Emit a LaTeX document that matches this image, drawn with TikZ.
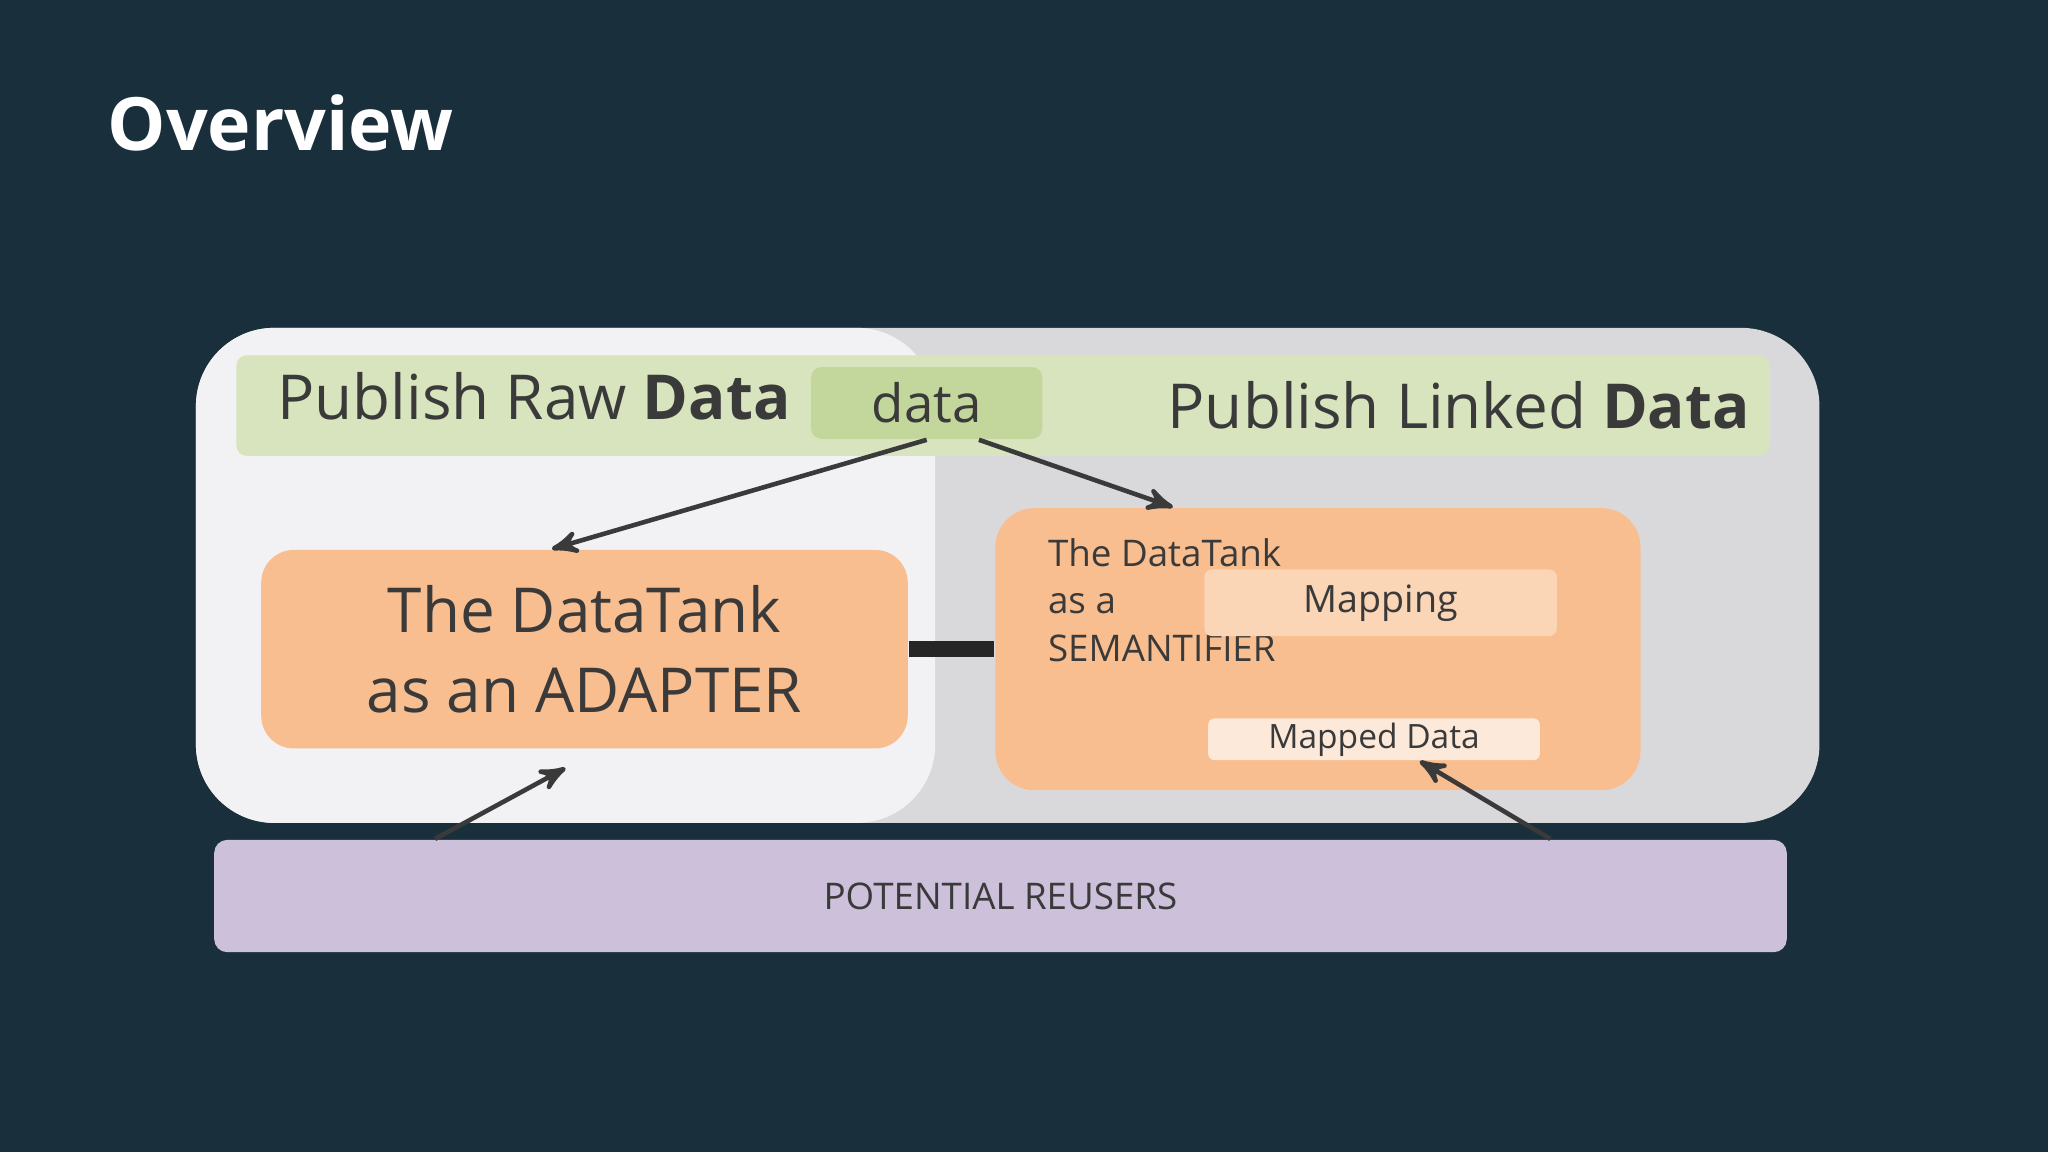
\documentclass[tikz,border=0pt]{standalone}
\usepackage{fontspec}
\setmainfont{Open Sans}
\usetikzlibrary{positioning,arrows}
\definecolor{slate}{HTML}{1A2F3C}
\definecolor{panelgrey}{HTML}{D9D9DB}
\definecolor{panelwhite}{HTML}{F2F2F4}
\definecolor{bandgreen}{HTML}{D7E4BD}
\definecolor{datagreen}{HTML}{C3D69B}
\definecolor{tankorange}{HTML}{F9BE8F}
\definecolor{mapfill}{HTML}{FAD5B6}
\definecolor{mappedfill}{HTML}{FDE9D9}
\definecolor{reuserpurple}{HTML}{CCC0DA}
\definecolor{ink}{HTML}{3A3A3A}
\tikzset{
  box/.style={draw=none,rounded corners=#1,inner sep=0pt},
  flow/.style={->,>=stealth',draw=ink,line width=1pt},
}
\begin{document}
\begin{tikzpicture}[text=ink]
	\fill[slate] (0,0) rectangle (15.68,-8.82);
	\useasboundingbox (0,0) rectangle (15.68,-8.82);
	\node[anchor=base west,text=white,font=\fontsize{16}{19}\selectfont\bfseries] (title) at (0.70,-1.15) {Overview};
	% panels
	\fill[panelgrey,rounded corners=0.6cm] (1.50,-2.51) rectangle (13.93,-6.30);
	\fill[panelwhite,rounded corners=0.6cm] (1.50,-2.51) rectangle (7.16,-6.30);
	\fill[bandgreen,rounded corners=0.08cm] (1.81,-2.72) rectangle (13.55,-3.49);
	\node[anchor=west,font=\fontsize{13.5}{16}\selectfont] (raw) at (2.00,-3.03) {Publish Raw \textbf{Data}};
	\node[anchor=east,font=\fontsize{13.5}{16}\selectfont] (linked) at (13.52,-3.10) {Publish Linked \textbf{Data}};
	\node[box=0.08cm,fill=datagreen,minimum width=1.77cm,minimum height=0.55cm,font=\fontsize{11.5}{14}\selectfont] (data) at (7.095,-3.085) {data};
	% data tanks
	\node[box=0.25cm,fill=tankorange,minimum width=4.95cm,minimum height=1.52cm,align=center,font=\fontsize{13.5}{17.5}\selectfont] (adapter) at (4.475,-4.97) {The DataTank\\as an ADAPTER};
	\node[box=0.3cm,fill=tankorange,minimum width=4.94cm,minimum height=2.16cm] (semantifier) at (10.09,-4.97) {};
	\node[anchor=north west,align=left,font=\fontsize{8}{10.3}\selectfont] (semtext) at (7.90,-4.00) {The DataTank\\as a\\SEMANTIFIER};
	\node[box=0.06cm,fill=mapfill,minimum width=2.70cm,minimum height=0.51cm,font=\fontsize{8.2}{10}\selectfont] (mapping) at (10.57,-4.615) {Mapping};
	\node[box=0.05cm,fill=mappedfill,minimum width=2.54cm,minimum height=0.32cm,font=\fontsize{7.3}{9}\selectfont] (mapped) at (10.52,-5.66) {Mapped Data};
	\node[box=0.1cm,fill=reuserpurple,minimum width=12.04cm,minimum height=0.86cm,font=\fontsize{8}{10}\selectfont] (reusers) at (7.66,-6.86) {POTENTIAL REUSERS};
	% connectors
	\draw[line width=3.5pt,black!85] (adapter.east) -- (semantifier.west);
	\draw[flow] ([xshift=0.00cm]data.south) -- ([xshift=-0.25cm]adapter.north);
	\draw[flow] ([xshift=0.40cm]data.south) -- ([xshift=-1.11cm]semantifier.north);
	\draw[flow] ([xshift=-4.33cm]reusers.north) -- (4.33,-5.88);
	\draw[flow] ([xshift=4.21cm]reusers.north) -- (mapped.south -| 10.87,0);
\end{tikzpicture}
\end{document}
